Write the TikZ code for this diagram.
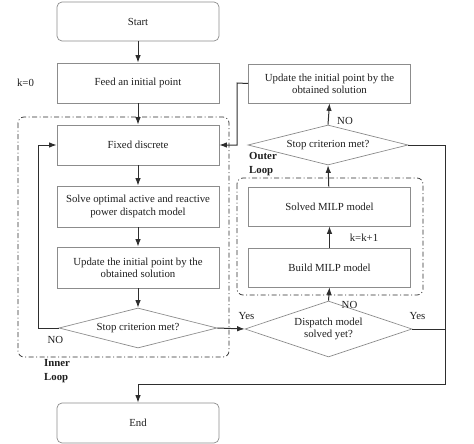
\documentclass[tikz,border=0pt]{standalone}
\usepackage{fontspec}
\setmainfont{Liberation Serif}
\usetikzlibrary{shapes.geometric,arrows.meta}
\definecolor{boxc}{HTML}{8C8C8C}
\definecolor{linec}{HTML}{2E2E2E}
\definecolor{txtc}{HTML}{1E1E1E}
\begin{document}
\begin{tikzpicture}[x=1pt,y=-1pt,
  every node/.style={text=txtc, font=\fontsize{10.8}{12.3}\selectfont},
  box/.style={draw=boxc, line width=0.7pt, minimum width=162pt, minimum height=40pt, align=center, inner sep=0pt},
  rbox/.style={box, rounded corners=5pt},
  dec/.style={draw=boxc, line width=0.7pt, diamond, align=center, inner sep=0pt, aspect=3},
  conn/.style={draw=linec, line width=1pt},
  arr/.style={conn, -{Latex[length=7.5pt,width=5.5pt]}},
  loopbox/.style={draw=linec, line width=0.7pt, rounded corners=6pt, dash pattern=on 5pt off 2.5pt on 1pt off 2.5pt},
  lbl/.style={inner sep=0pt},
  loopl/.style={inner sep=0pt, align=left, font=\fontsize{10.8}{14}\selectfont\bfseries}
]
\useasboundingbox (0,0) rectangle (474,444);
% loop frames
\draw[loopbox] (18,117) rectangle (229,357);
\draw[loopbox] (237,178) rectangle (423,295);
% left column
\node[rbox, minimum height=39pt] (start) at (138,21.5) {Start};
\node[box] (feed) at (138,83) {Feed an initial point};
\node[box] (fixed) at (138,145) {Fixed discrete};
\node[box, minimum height=41pt] (solve) at (138,206.5) {Solve optimal active and reactive\\power dispatch model};
\node[box, minimum height=41pt] (upd) at (138,267.5) {Update the initial point by the\\obtained solution};
\node[dec, minimum width=158pt, minimum height=40pt] (stop) at (138,328) {Stop criterion met?};
\node[rbox] (end) at (138,423) {End};
% right column
\node[box, minimum height=39pt] (updr) at (329.5,83.5) {Update the initial point by the\\obtained solution};
\node[dec, minimum width=160pt, minimum height=40pt] (stopr) at (328,145) {Stop criterion met?};
\node[box, minimum height=39pt] (solved) at (329.5,206.5) {Solved MILP model};
\node[box, minimum height=39pt] (build) at (329.5,267.5) {Build MILP model};
\node[dec, minimum width=167pt, minimum height=56pt] (disp) at (328.5,329) {Dispatch model\\solved yet?};
% helper coordinates
\coordinate (lb) at (38,328);
\coordinate (ur) at (237,83);
\coordinate (rr) at (445,384);
\coordinate (rd) at (445,329);
% connectors
\draw[arr] (start) -- (feed);
\draw[arr] (feed) -- (fixed);
\draw[arr] (fixed) -- (solve);
\draw[arr] (solve) -- (upd);
\draw[arr] (upd) -- (stop);
\draw[arr] (stop.west) -- (lb) |- (fixed.west);
\draw[arr] (stop.east) -- (disp.west);
\draw[arr] (disp.north) -- (build.south);
\draw[arr] (build) -- (solved);
\draw[arr] (solved) -- (stopr.south);
\draw[arr] (stopr.north) -- (updr.south);
\draw[arr] (updr.west) -- (ur) |- (fixed.east);
\draw[arr] (stopr.east) -| (rr) -| (end.north);
\draw[conn] (disp.east) -- (rd);
% labels
\node[lbl] at (25.5,83) {k=0};
\node[lbl] at (55.5,340) {NO};
\node[loopl, anchor=north west] at (44,359) {Inner\\Loop};
\node[loopl, anchor=north west] at (249,152) {Outer\\Loop};
\node[lbl] at (345,121) {NO};
\node[lbl] at (364,238) {k=k+1};
\node[lbl] at (246.5,316) {Yes};
\node[lbl] at (417.5,316) {Yes};
\node[lbl] at (349.5,305) {NO};
\end{tikzpicture}
\end{document}
